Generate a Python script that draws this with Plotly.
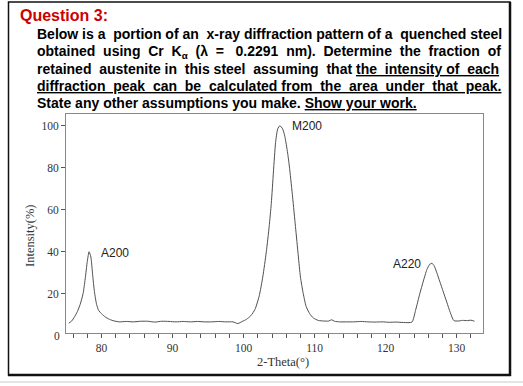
import plotly.graph_objects as go

# ---- data ----
two_theta = [75.4, 75.8, 76.2, 76.6, 77.0, 77.4, 77.7, 78.0, 78.25, 78.5, 78.75, 79.0, 79.3, 79.6,
             80.0, 80.5, 81.0, 81.6, 82.5, 83.5, 84.5, 85.5, 86.5, 87.5, 88.5, 89.5, 90.5, 91.5,
             92.5, 93.5, 94.5, 95.5, 96.5, 97.5, 98.5, 99.2, 99.8, 100.4, 101.0, 101.6, 102.2,
             102.7, 103.2, 103.6, 103.9, 104.2, 104.5, 104.8, 105.1, 105.5, 105.8, 106.2, 106.5,
             106.9, 107.3, 107.7, 108.0, 108.4, 108.8, 109.3, 109.8, 110.5, 111.3, 112.0, 112.4,
             112.8, 113.5, 114.5, 115.5, 116.5, 117.5, 118.5, 119.5, 120.5, 121.5, 122.5, 123.7,
             124.2, 124.8, 125.3, 125.8, 126.2, 126.5, 126.8, 127.2, 127.6, 128.1, 128.6, 129.1,
             129.6, 130.2, 130.8, 131.5, 132.0, 132.5]
intensity = [6.0, 7.0, 9.0, 11.5, 15.0, 20.0, 27.0, 35.5, 40.0, 37.5, 29.0, 21.0, 15.0, 12.0,
             10.5, 9.0, 8.0, 7.2, 6.6, 6.8, 6.6, 6.9, 6.9, 6.5, 6.9, 6.8, 6.6, 6.8,
             6.6, 6.8, 6.6, 6.6, 6.8, 6.6, 6.6, 5.8, 6.8, 7.8, 9.5, 12.5, 19.0,
             28.0, 40.0, 52.0, 63.0, 78.0, 92.0, 98.5, 100.0, 98.5, 95.0, 87.0, 79.0,
             66.0, 52.0, 38.0, 28.0, 20.0, 14.0, 10.5, 8.5, 7.3, 7.0, 7.0, 7.6,
             6.9, 6.6, 6.6, 6.6, 6.8, 6.6, 6.5, 6.6, 6.4, 6.5, 6.3, 6.5,
             12.0, 20.0, 26.0, 31.5, 34.0, 34.5, 33.5, 30.0, 26.0, 21.0, 16.0, 11.0,
             7.2, 7.0, 7.3, 7.2, 7.4, 6.9]

peak_labels = ["A200", "M200", "A220"]
peak_label_x = [79.6, 106.6, 120.7]
peak_label_y = [39.5, 99.9, 34.1]

y_ticks = [20, 40, 60, 80, 100]
x_ticks = [80, 90, 100, 110, 120, 130]

question_title = "Question 3:"
question_lines = [
    "Below is a portion of an x-ray diffraction pattern of a quenched steel",
    "obtained using Cr K<sub>α</sub> (λ = 0.2291 nm). Determine the fraction of",
    "retained austenite in this steel assuming that <u>the intensity of each</u>",
    "<u>diffraction peak can be calculated from the area under that peak.</u>",
    "State any other assumptions you make. <u>Show your work.</u>",
]
# extra non-breaking spaces used to imitate the justified paragraph
justify_extra = [3, 12, 6, 9, 0]

# ---- layout geometry (pixels) ----
W, H = 523, 386
L, R, T, B = 66, 40, 114, 53
PW, PH = W - L - R, H - T - B


def px(x):
    return (x - L) / PW


def py(y):
    return (H - B - y) / PH


def justify(text, extra):
    words = text.split(" ")
    gaps = len(words) - 1
    if extra <= 0 or gaps <= 0:
        return text
    out = words[0]
    given = 0
    for i in range(1, len(words)):
        target = round(extra * i / gaps)
        add = target - given
        given = target
        out += " " + "\u00a0" * add + words[i]
    return out


fig = go.Figure()
fig.add_trace(go.Scatter(x=two_theta, y=intensity, mode="lines",
                         line=dict(color="#505050", width=1, shape="spline", smoothing=0.6),
                         hoverinfo="skip", showlegend=False))

ann = []
for t, xv, yv in zip(peak_labels, peak_label_x, peak_label_y):
    ann.append(dict(x=xv, y=yv, xref="x", yref="y", text=t, showarrow=False,
                    xanchor="left", yanchor="middle",
                    font=dict(family="Liberation Sans, Arial", size=12, color="#222222")))

serif = "Liberation Serif, Times New Roman"
# "0" tick label (sits just below the visible axis range)
ann.append(dict(x=px(62), y=py(336), xref="paper", yref="paper", text="0", showarrow=False,
                xanchor="right", yanchor="middle",
                font=dict(family=serif, size=11.5, color="#333333")))

ann.append(dict(x=px(30), y=py(236), xref="paper", yref="paper", text="Intensity(%)",
                showarrow=False, textangle=-90, xanchor="center", yanchor="middle",
                font=dict(family=serif, size=12.5, color="#333333")))
ann.append(dict(x=px(283), y=py(362), xref="paper", yref="paper", text="2-Theta(°)",
                showarrow=False, xanchor="center", yanchor="middle",
                font=dict(family=serif, size=12.5, color="#333333")))

ann.append(dict(x=px(18), y=py(16), xref="paper", yref="paper", text="<b>" + question_title + "</b>",
                showarrow=False, xanchor="left", yanchor="middle",
                font=dict(family="Liberation Sans, Arial", size=16, color="#cc0000")))

line_y = [34, 52, 69, 86, 103]
for t, yy, ex in zip(question_lines, line_y, justify_extra):
    ann.append(dict(x=px(35), y=py(yy), xref="paper", yref="paper",
                    text="<b>" + justify(t, ex) + "</b>",
                    showarrow=False, xanchor="left", yanchor="middle",
                    font=dict(family="Liberation Sans, Arial", size=14, color="#000000")))

shapes = [
    dict(type="rect", xref="paper", yref="paper", x0=px(8.5), x1=px(510), y0=py(2), y1=py(375),
         line=dict(color="#111111", width=1.5)),
    dict(type="line", xref="paper", yref="paper", x0=px(510), x1=px(510), y0=py(2), y1=py(376),
         line=dict(color="#111111", width=2.5)),
    dict(type="line", xref="paper", yref="paper", x0=px(8), x1=px(511), y0=py(375), y1=py(375),
         line=dict(color="#111111", width=2.5)),
    dict(type="line", xref="paper", yref="paper", x0=px(0), x1=px(523), y0=py(382), y1=py(382),
         line=dict(color="#dddddd", width=1.5)),
]

axis_font = dict(family=serif, size=11.5, color="#333333")
fig.update_layout(
    width=W, height=H, autosize=False,
    margin=dict(l=L, r=R, t=T, b=B, pad=0),
    paper_bgcolor="white", plot_bgcolor="white",
    showlegend=False,
    annotations=ann, shapes=shapes,
    xaxis=dict(range=[75, 133.7], tickvals=x_ticks, ticks="outside", ticklen=4, tickcolor="#555555",
               minor=dict(dtick=2, tick0=0, ticks="outside", ticklen=4, tickcolor="#555555"),
               showline=True, mirror=True, linecolor="#888888", linewidth=1,
               showgrid=False, zeroline=False, tickfont=axis_font, fixedrange=True),
    yaxis=dict(range=[1.3, 105.6], tickvals=y_ticks, ticks="outside", ticklen=4, tickcolor="#555555",
               showline=True, mirror=True, linecolor="#888888", linewidth=1,
               showgrid=False, zeroline=False, tickfont=axis_font, fixedrange=True),
)

fig.write_html("out.html", config={"displayModeBar": False},
               post_script="document.body.style.margin='0';document.body.style.overflow='hidden';")
